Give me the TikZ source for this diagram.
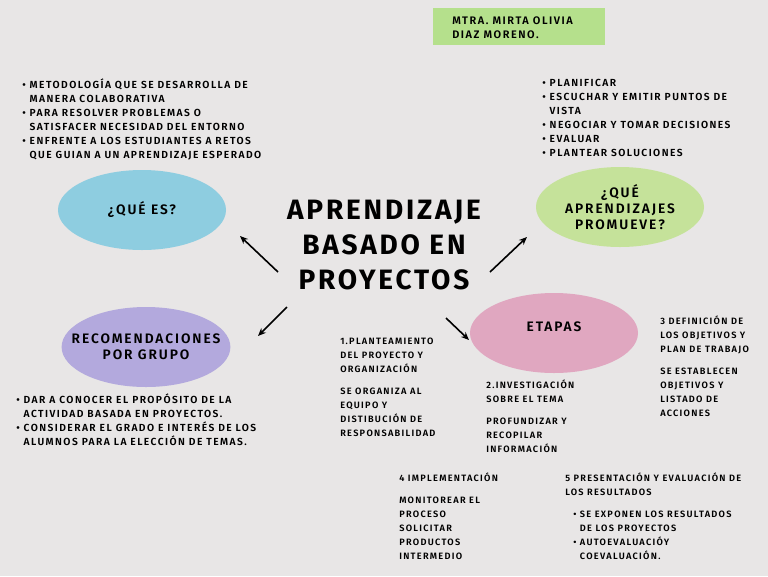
\documentclass[tikz,border=0pt]{standalone}
\usepackage{fontspec}
\setmainfont{Fira Sans}[LetterSpace=14,UprightFont=* SemiBold]
\newfontfamily\titlefont{Fira Sans}[LetterSpace=10,UprightFont=* Bold]
\definecolor{bg}{HTML}{E8E6E6}
\definecolor{cblue}{HTML}{8ECDE0}
\definecolor{cgreen}{HTML}{C5E29A}
\definecolor{cviolet}{HTML}{B3A9DD}
\definecolor{cpink}{HTML}{E0A7C0}
\definecolor{cauth}{HTML}{B5E08C}
\begin{document}
\begin{tikzpicture}[x=0.75pt,y=-0.75pt,
  txt/.style={anchor=north west,align=left,inner sep=0pt,font=\fontsize{7.7}{10.5}\selectfont},
  etx/.style={txt,font=\fontsize{6.9}{10.5}\selectfont},
  oval/.style={ellipse,minimum width=168*0.75pt,minimum height=80*0.75pt,inner sep=0pt,align=center,font=\fontsize{10.3}{12}\selectfont},
  arr/.style={-{Stealth[length=6pt,width=5pt]},line width=1.2pt}]
\usetikzlibrary{shapes.geometric,arrows.meta}
\fill[bg] (0,0) rectangle (768,576);
\fill[cauth] (433,8) rectangle (605,45);
\node[txt,font=\fontsize{8.2}{10.5}\selectfont] (auth) at (452,16) {MTRA. MIRTA OLIVIA\\DIAZ MORENO.};
\node[oval,fill=cblue] (que) at (142,210) {¿QUÉ ES?};
\node[oval,fill=cgreen] (apr) at (620,207) {¿QUÉ\\APRENDIZAJES\\PROMUEVE?};
\node[oval,fill=cviolet,inner xsep=-11pt] (rec) at (146,347) {RECOMENDACIONES\\POR GRUPO};
\node[oval,fill=cpink] (eta) at (554,333) {\raisebox{9pt}{ETAPAS}};
\node[align=center,inner sep=0pt,font=\titlefont\fontsize{21}{26}\selectfont] (title) at (384,245) {APRENDIZAJE\\BASADO EN\\PROYECTOS};
\coordinate (a1) at (278,272); \coordinate (a2) at (490,272);
\coordinate (a3) at (287,307); \coordinate (a4) at (446,318);
\draw[arr] (a1) -- (240,236);
\draw[arr] (a2) -- (527,237);
\draw[arr] (a3) -- (258,336);
\draw[arr] (a4) -- (469,340);
\node[txt] (t1) at (22,79) {\textbullet\ METODOLOGÍA QUE SE DESARROLLA DE\\
\phantom{\textbullet\ }MANERA COLABORATIVA\\
\textbullet\ PARA RESOLVER PROBLEMAS O\\
\phantom{\textbullet\ }SATISFACER NECESIDAD DEL ENTORNO\\
\textbullet\ ENFRENTE A LOS ESTUDIANTES A RETOS\\
\phantom{\textbullet\ }QUE GUIAN A UN APRENDIZAJE ESPERADO};
\node[txt] (t2) at (542,79) {\textbullet\ PLANIFICAR\\
\textbullet\ ESCUCHAR Y EMITIR PUNTOS DE\\
\phantom{\textbullet\ }VISTA\\
\textbullet\ NEGOCIAR Y TOMAR DECISIONES\\
\textbullet\ EVALUAR\\
\textbullet\ PLANTEAR SOLUCIONES};
\node[txt] (t3) at (16,394) {\textbullet\ DAR A CONOCER EL PROPÓSITO DE LA\\
\phantom{\textbullet\ }ACTIVIDAD BASADA EN PROYECTOS.\\
\textbullet\ CONSIDERAR EL GRADO E INTERÉS DE LOS\\
\phantom{\textbullet\ }ALUMNOS PARA LA ELECCIÓN DE TEMAS.};
\node[etx] (e1) at (340,338) {1.PLANTEAMIENTO\\DEL PROYECTO Y\\ORGANIZACIÓN\\[6pt]SE ORGANIZA AL\\EQUIPO Y\\DISTIBUCIÓN DE\\RESPONSABILIDAD};
\node[etx] (e2) at (486,380) {2.INVESTIGACIÓN\\SOBRE EL TEMA\\[6pt]PROFUNDIZAR Y\\RECOPILAR\\INFORMACIÓN};
\node[etx] (e3) at (660,316) {3 DEFINICIÓN DE\\LOS OBJETIVOS Y\\PLAN DE TRABAJO\\[6pt]SE ESTABLECEN\\OBJETIVOS Y\\LISTADO DE\\ACCIONES};
\node[etx] (e4) at (399,473) {4 IMPLEMENTACIÓN\\[6pt]MONITOREAR EL\\PROCESO\\SOLICITAR\\PRODUCTOS\\INTERMEDIO};
\node[etx] (e5) at (565,473) {5 PRESENTACIÓN Y EVALUACIÓN DE\\LOS RESULTADOS\\[6pt]
\hspace*{6pt}\textbullet\ SE EXPONEN LOS RESULTADOS\\
\hspace*{6pt}\phantom{\textbullet\ }DE LOS PROYECTOS\\
\hspace*{6pt}\textbullet\ AUTOEVALUACIÓY\\
\hspace*{6pt}\phantom{\textbullet\ }COEVALUACIÓN.};
\end{tikzpicture}
\end{document}
